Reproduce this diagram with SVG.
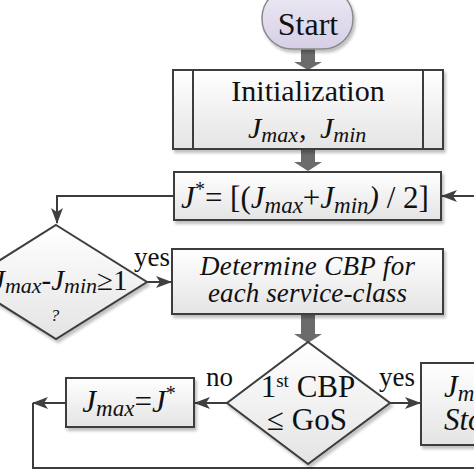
<svg xmlns="http://www.w3.org/2000/svg" width="474" height="474" viewBox="0 0 474 474">
<defs>
<linearGradient id="gBox" x1="0" y1="0" x2="0" y2="1">
<stop offset="0" stop-color="#ffffff"/>
<stop offset="1" stop-color="#e4e4e4"/>
</linearGradient>
<linearGradient id="gStart" x1="0" y1="0" x2="0" y2="1">
<stop offset="0" stop-color="#eeeaf4"/>
<stop offset="1" stop-color="#d6cfe6"/>
</linearGradient>
<marker id="ah" markerWidth="16" markerHeight="12" refX="15" refY="6" orient="auto" markerUnits="userSpaceOnUse">
<path d="M0,0 L16,6 L0,12 L4,6 Z" fill="#404040"/>
</marker>
<filter id="sh" x="-10%" y="-10%" width="130%" height="140%">
<feGaussianBlur in="SourceAlpha" stdDeviation="1.5"/>
<feOffset dx="2" dy="3" result="b"/>
<feComponentTransfer><feFuncA type="linear" slope="0.25"/></feComponentTransfer>
<feMerge><feMergeNode/><feMergeNode in="SourceGraphic"/></feMerge>
</filter>
</defs>
<style>
.box{fill:url(#gBox);stroke:#3c3c3c;stroke-width:2}
.t{font-family:"Liberation Serif","Times New Roman",serif;fill:#111}
.i{font-style:italic}
.conn{fill:none;stroke:#3c3c3c;stroke-width:2}
.thick{fill:#6b6b6b}
</style>
<rect width="474" height="474" fill="#ffffff"/>

<g id="connectors">
<path class="thick" d="M301,49 H315 V62 H322 L308,70 L294,62 H301 Z"/>
<path class="thick" d="M301,149 H315 V162 H322 L308,171 L294,162 H301 Z"/>
<path class="thick" d="M301,314 H315 V334 H322 L308,343 L294,334 H301 Z"/>
<path class="conn" d="M174,196 H57 V223" marker-end="url(#ah)"/>
<path class="conn" d="M474,196 H442" marker-end="url(#ah)"/>
<path class="conn" d="M147,282 H171" marker-end="url(#ah)"/>
<path class="conn" d="M227,403 H195" marker-end="url(#ah)"/>
<path class="conn" d="M390,403 H420" marker-end="url(#ah)"/>
<path class="conn" d="M66,403 H33" marker-end="url(#ah)"/>
<path class="conn" d="M33,403 V468 H474"/>
<text class="t" x="134" y="266" font-size="27">yes</text>
<text class="t" x="206" y="386" font-size="27">no</text>
<text class="t" x="379" y="386" font-size="27">yes</text>
</g>

<g id="start">
<rect x="262" y="-12" width="91" height="61" rx="30" ry="30" fill="url(#gStart)" stroke="#8a8a8a" stroke-width="1.5" filter="url(#sh)"/>
<text class="t" x="308" y="35" font-size="32" text-anchor="middle">Start</text>
</g>

<g id="init">
<rect class="box" x="173" y="70" width="270" height="79" filter="url(#sh)"/>
<line x1="193" y1="70" x2="193" y2="149" stroke="#3c3c3c" stroke-width="2"/>
<line x1="423" y1="70" x2="423" y2="149" stroke="#3c3c3c" stroke-width="2"/>
<text class="t" x="308" y="101" font-size="30" text-anchor="middle">Initialization</text>
<text class="t" x="248" y="138" font-size="30"><tspan class="i">J</tspan><tspan class="i" font-size="22" dy="4">max</tspan><tspan class="i" dy="-4" x="299">,</tspan><tspan class="i" x="320">J</tspan><tspan class="i" font-size="22" dy="4">min</tspan></text>
</g>

<g id="jstar">
<rect class="box" x="174" y="172" width="267" height="48" filter="url(#sh)"/>
<text class="t" x="305" y="208" font-size="31" text-anchor="middle"><tspan class="i">J</tspan><tspan font-size="20" dy="-12">*</tspan><tspan dy="12">= [(</tspan><tspan class="i">J</tspan><tspan class="i" font-size="23" dy="5">max</tspan><tspan dy="-5">+</tspan><tspan class="i">J</tspan><tspan class="i" font-size="23" dy="5">min</tspan><tspan class="i" dy="-5">)</tspan><tspan> / 2]</tspan></text>
</g>

<g id="cond1">
<polygon class="box" points="56,225 147,282 56,339 -35,282" filter="url(#sh)"/>
<text class="t" x="-8" y="290" font-size="29"><tspan class="i">J</tspan><tspan class="i" font-size="22" dy="3">max</tspan><tspan dy="-3">-</tspan><tspan class="i">J</tspan><tspan class="i" font-size="22" dy="3">min</tspan><tspan dy="-3">≥1</tspan></text>
<text class="t i" x="55" y="321" font-size="17" text-anchor="middle">?</text>
</g>

<g id="determine">
<rect class="box" x="172" y="249" width="271" height="65" filter="url(#sh)"/>
<text class="t i" x="200" y="275" font-size="27" textLength="215" lengthAdjust="spacing">Determine CBP for</text>
<text class="t i" x="208" y="302" font-size="27" textLength="199" lengthAdjust="spacing">each service-class</text>
</g>

<g id="cond2">
<polygon class="box" points="308,342 390,403 308,464 227,403" filter="url(#sh)"/>
<text class="t" x="308" y="397" font-size="31" text-anchor="middle">1<tspan font-size="19" dy="-10">st</tspan><tspan dy="10"> CBP</tspan></text>
<text class="t" x="307" y="430" font-size="31" text-anchor="middle">≤ GoS</text>
</g>

<g id="jmax">
<rect class="box" x="66" y="378" width="128" height="49" filter="url(#sh)"/>
<text class="t" x="129" y="412" font-size="31" text-anchor="middle"><tspan class="i">J</tspan><tspan class="i" font-size="23" dy="4">max</tspan><tspan dy="-4">=</tspan><tspan class="i">J</tspan><tspan font-size="20" dy="-12">*</tspan></text>
</g>

<g id="result">
<rect class="box" x="421" y="363" width="100" height="82" filter="url(#sh)"/>
<text class="t i" x="444" y="397" font-size="31">J<tspan font-size="23" dy="4">m</tspan></text>
<text class="t i" x="444" y="430" font-size="31">Sto</text>
</g>
</svg>
